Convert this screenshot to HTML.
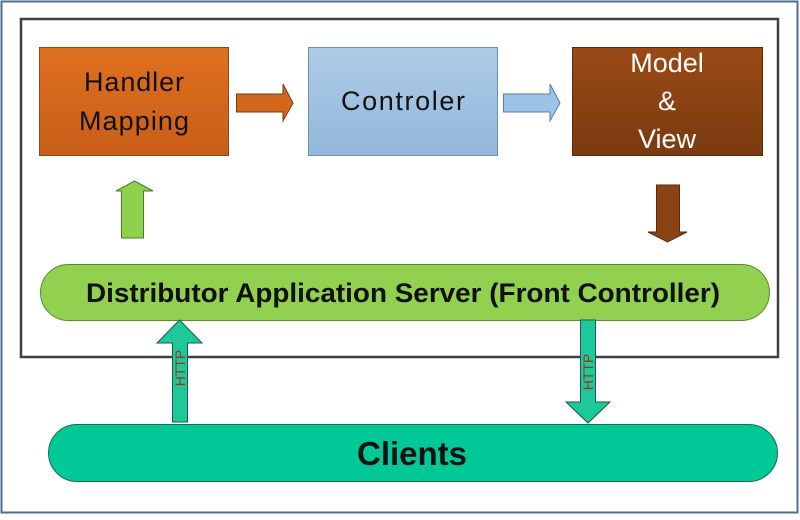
<!DOCTYPE html>
<html><head><style>
body{margin:0;width:800px;height:515px;background:#fff;overflow:hidden}
</style></head><body>
<svg width="800" height="515" xmlns="http://www.w3.org/2000/svg" font-family="Liberation Sans, sans-serif">
<defs>
<linearGradient id="or" x1="0" y1="0" x2="0" y2="1"><stop offset="0" stop-color="#e07020"/><stop offset="1" stop-color="#c85e18"/></linearGradient>
<linearGradient id="bl" x1="0" y1="0" x2="0" y2="1"><stop offset="0" stop-color="#aecbe6"/><stop offset="1" stop-color="#93b8dc"/></linearGradient>
<linearGradient id="br" x1="0" y1="0" x2="0" y2="1"><stop offset="0" stop-color="#9a4a15"/><stop offset="1" stop-color="#7a3a10"/></linearGradient>
</defs>
<rect x="1.5" y="1.5" width="796" height="511" fill="#fff" stroke="#4f6e94" stroke-width="2"/>
<rect x="21" y="19" width="757" height="338" fill="#fff" stroke="#404040" stroke-width="2.5"/>
<rect x="39.5" y="47.5" width="189" height="108" fill="url(#or)" stroke="#8a4a1a"/>
<text x="134" y="91" font-size="27" text-anchor="middle" fill="#111" textLength="100">Handler</text>
<text x="134" y="130" font-size="27" text-anchor="middle" fill="#111" textLength="110">Mapping</text>
<rect x="308.5" y="47.5" width="189" height="108" fill="url(#bl)" stroke="#6f8fb0"/>
<text x="403" y="110" font-size="27" text-anchor="middle" fill="#111" textLength="124">Controler</text>
<rect x="572.5" y="47.5" width="190" height="108" fill="url(#br)" stroke="#5a2a08"/>
<text x="667" y="72" font-size="27" text-anchor="middle" fill="#fff">Model</text>
<text x="667" y="110" font-size="27" text-anchor="middle" fill="#fff">&amp;</text>
<text x="667" y="148" font-size="27" text-anchor="middle" fill="#fff">View</text>
<polygon points="236.5,94 283,94 283,84 293,103 283,121 283,112 236.5,112" fill="#d0671c" stroke="#7a3a10"/>
<polygon points="503.5,94 550,94 550,84 560,103 550,121 550,112 503.5,112" fill="#9dc3e6" stroke="#5a7ea5"/>
<polygon points="121.5,238 121.5,191 116,191 134.5,181 153,191 143.5,191 143.5,238" fill="#8fd14f" stroke="#4a7a20"/>
<polygon points="656.5,185 679.5,185 679.5,232 687,232 667.5,242 648,232 656.5,232" fill="#8a4414" stroke="#5a2a08"/>
<rect x="40.5" y="264.5" width="729" height="56" rx="28" fill="#92d050" stroke="#5a8a2a"/>
<text x="403" y="302" font-size="27" font-weight="bold" text-anchor="middle" fill="#111" textLength="634" lengthAdjust="spacingAndGlyphs">Distributor Application Server (Front Controller)</text>
<rect x="48.5" y="424.5" width="729" height="57" rx="28.5" fill="#00c896" stroke="#1f6a50"/>
<text x="412" y="465" font-size="33" font-weight="bold" text-anchor="middle" fill="#111" textLength="110">Clients</text>
<polygon points="172.5,422 172.5,343 157,343 179.5,320 202,343 187.5,343 187.5,422" fill="#1dc99a" stroke="#1f5a48"/>
<text transform="translate(185,368) rotate(-90)" font-size="14" text-anchor="middle" fill="#a0301a">HTTP</text>
<polygon points="580.5,320 580.5,402 566,402 588,423 610,402 595.5,402 595.5,320" fill="#1dc99a" stroke="#1f5a48"/>
<text transform="translate(593,372) rotate(-90)" font-size="14" text-anchor="middle" fill="#a0301a">HTTP</text>
</svg>
</body></html>
